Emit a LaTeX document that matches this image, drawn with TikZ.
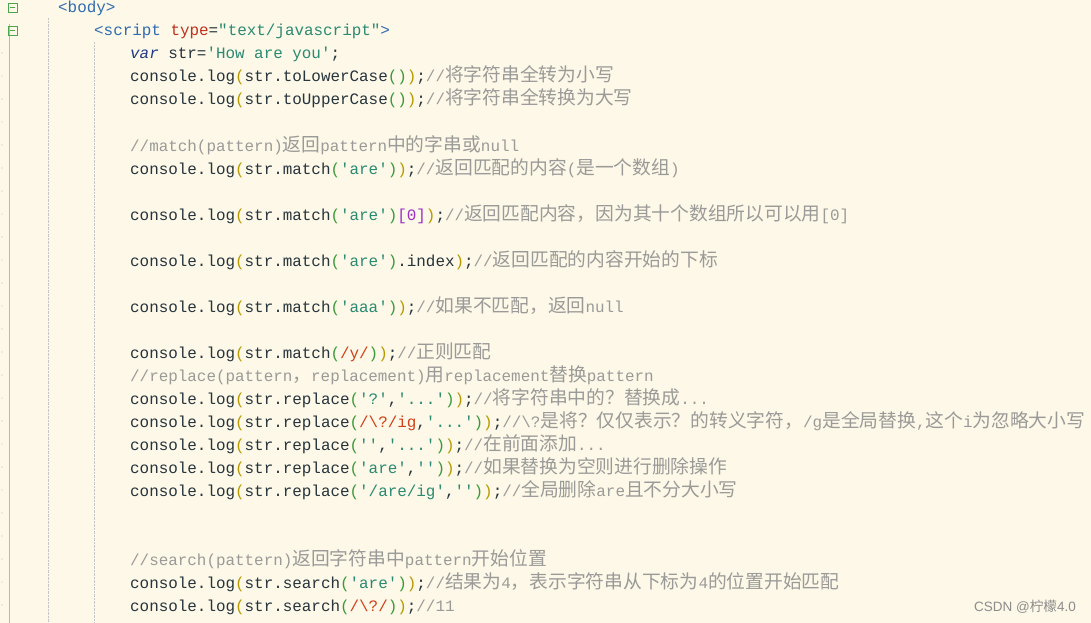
\documentclass[tikz,border=0pt]{standalone}
\usepackage{fontspec}
\newfontfamily\mono{Liberation Mono}
\newfontfamily\cjk[Scale=1.18]{Noto Sans CJK SC}
\newfontfamily\wm{Liberation Sans}
\definecolor{bg}{HTML}{FDF8E7}
\definecolor{tx}{HTML}{26343C}
\definecolor{cmt}{HTML}{9A9A98}
\definecolor{strc}{HTML}{2A8A72}
\definecolor{rxc}{HTML}{D0401A}
\definecolor{tagc}{HTML}{2F6BB0}
\definecolor{attc}{HTML}{C0301E}
\definecolor{pgold}{HTML}{B89A00}
\definecolor{pgrn}{HTML}{3A9A3A}
\definecolor{purp}{HTML}{9A30C8}
\definecolor{kw}{HTML}{1F3A8A}
\newcommand\Cm[1]{\textcolor{cmt}{#1}}
\newcommand\Ck[1]{{\cjk #1}}
\newcommand\St[1]{\textcolor{strc}{#1}}
\newcommand\Rx[1]{\textcolor{rxc}{#1}}
\newcommand\Pa[1]{\textcolor{pgold}{#1}}
\newcommand\Pb[1]{\textcolor{pgrn}{#1}}
\newcommand\Bs{\char92}
\begin{document}
\begin{tikzpicture}[x=1pt,y=1pt,
  code/.style={anchor=base west,inner sep=0pt,font=\mono\fontsize{15.9}{18}\selectfont,text=tx}]
\fill[bg] (0,0) rectangle (1091,-623);
\useasboundingbox (0,0) rectangle (1091,-623);
% gutter
\draw[green!40!gray!60,line width=0.6pt] (9,-24) -- (9,-623);
\foreach \y in {7,30}{\draw[green!50!black!70,line width=0.6pt] (8,-\y-5) rectangle (17,-\y+4); \draw[green!50!black!70,line width=0.6pt] (10,-\y) -- (15,-\y);}
\foreach \y in {53,76,99,122,145,168,191,214,237,260,283,306,329,352,375,398,421,444,467,490,513,536,559,582,605}{\fill[gray!50] (2,-\y) circle (0.6);}
\draw[gray!45,densely dotted] (48,-18) -- (48,-623);
\draw[gray!45,densely dotted] (94,-42) -- (94,-623);
\node[code] (L1) at (58,-13) {\textcolor{tagc}{<body>}};
\node[code] (L2) at (94,-36) {\textcolor{tagc}{<script} \textcolor{attc}{type}=\St{"text/javascript"}\textcolor{tagc}{>}};
\node[code] (L3) at (130,-59) {\textcolor{kw}{\itshape var} str=\St{'How are you'};};
\node[code] (L4) at (130,-82) {console.log\Pa{(}str.toLowerCase\Pb{()}\Pa{)};\Cm{//\Ck{将字符串全转为小写}}};
\node[code] (L5) at (130,-105) {console.log\Pa{(}str.toUpperCase\Pb{()}\Pa{)};\Cm{//\Ck{将字符串全转换为大写}}};
\node[code] (L6) at (130,-151) {\Cm{//match(pattern)\Ck{返回}pattern\Ck{中的字串或}null}};
\node[code] (L7) at (130,-174) {console.log\Pa{(}str.match\Pb{(}\St{'are'}\Pb{)}\Pa{)};\Cm{//\Ck{返回匹配的内容}(\Ck{是一个数组})}};
\node[code] (L8) at (130,-220) {console.log\Pa{(}str.match\Pb{(}\St{'are'}\Pb{)}\textcolor{purp}{[0]}\Pa{)};\Cm{//\Ck{返回匹配内容，因为其十个数组所以可以用}[0]}};
\node[code] (L9) at (130,-266) {console.log\Pa{(}str.match\Pb{(}\St{'are'}\Pb{)}.index\Pa{)};\Cm{//\Ck{返回匹配的内容开始的下标}}};
\node[code] (L10) at (130,-312) {console.log\Pa{(}str.match\Pb{(}\St{'aaa'}\Pb{)}\Pa{)};\Cm{//\Ck{如果不匹配，返回}null}};
\node[code] (L11) at (130,-358) {console.log\Pa{(}str.match\Pb{(}\Rx{/y/}\Pb{)}\Pa{)};\Cm{//\Ck{正则匹配}}};
\node[code] (L12) at (130,-381) {\Cm{//replace(pattern\Ck{，}replacement)\Ck{用}replacement\Ck{替换}pattern}};
\node[code] (L13) at (130,-404) {console.log\Pa{(}str.replace\Pb{(}\St{'?'},\St{'...'}\Pb{)}\Pa{)};\Cm{//\Ck{将字符串中的？替换成}...}};
\node[code] (L14) at (130,-427) {console.log\Pa{(}str.replace\Pb{(}\Rx{/\Bs?/ig},\St{'...'}\Pb{)}\Pa{)};\Cm{//\Bs?\Ck{是将？仅仅表示？的转义字符，}/g\Ck{是全局替换},\Ck{这个}i\Ck{为忽略大小写}}};
\node[code] (L15) at (130,-450) {console.log\Pa{(}str.replace\Pb{(}\St{''},\St{'...'}\Pb{)}\Pa{)};\Cm{//\Ck{在前面添加}...}};
\node[code] (L16) at (130,-473) {console.log\Pa{(}str.replace\Pb{(}\St{'are'},\St{''}\Pb{)}\Pa{)};\Cm{//\Ck{如果替换为空则进行删除操作}}};
\node[code] (L17) at (130,-496) {console.log\Pa{(}str.replace\Pb{(}\St{'/are/ig'},\St{''}\Pb{)}\Pa{)};\Cm{//\Ck{全局删除}are\Ck{且不分大小写}}};
\node[code] (L18) at (130,-565) {\Cm{//search(pattern)\Ck{返回字符串中}pattern\Ck{开始位置}}};
\node[code] (L19) at (130,-588) {console.log\Pa{(}str.search\Pb{(}\St{'are'}\Pb{)}\Pa{)};\Cm{//\Ck{结果为}4\Ck{，表示字符串从下标为}4\Ck{的位置开始匹配}}};
\node[code] (L20) at (130,-611) {console.log\Pa{(}str.search\Pb{(}\Rx{/\Bs?/}\Pb{)}\Pa{)};\Cm{//11}};
\node[anchor=base east,inner sep=0pt,text=gray!90,font=\wm\fontsize{13.5}{16}\selectfont] (WM) at (1076,-611) {CSDN @{\cjk\fontsize{11.5}{14}\selectfont 柠檬}4.0};
\end{tikzpicture}
\end{document}
